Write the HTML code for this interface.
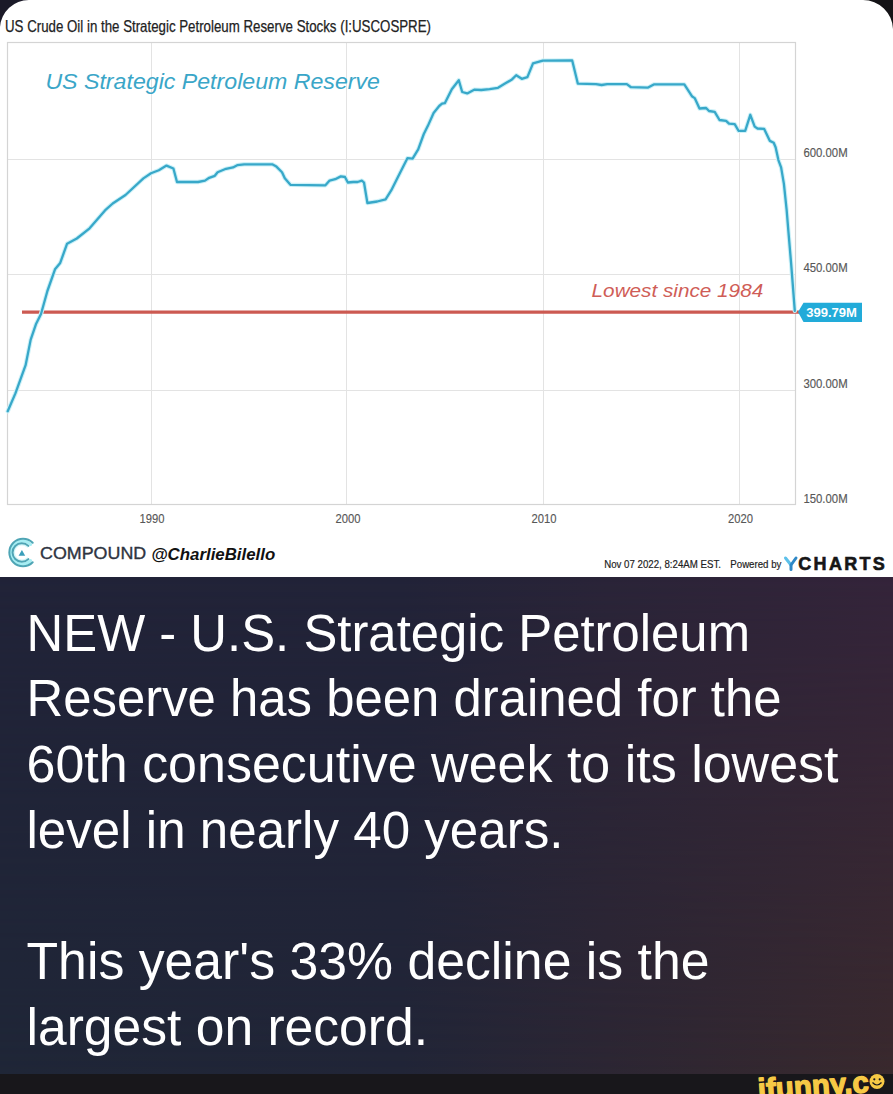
<!DOCTYPE html>
<html><head><meta charset="utf-8">
<style>
html,body{margin:0;padding:0;}
body{width:893px;height:1094px;overflow:hidden;position:relative;background:#ffffff;font-family:"Liberation Sans",sans-serif;}
svg{position:absolute;left:0;top:0;display:block;}
#dark{position:absolute;left:0;top:577px;width:893px;height:497px;
 background:linear-gradient(90deg,#212338 0%,#222338 45%,#2a2438 68%,#34243a 100%);}
#dark2{position:absolute;left:0;top:577px;width:893px;height:497px;
 background:linear-gradient(90deg,#1f2637 0%,#212537 45%,#2c2633 68%,#39292d 100%);
 -webkit-mask-image:linear-gradient(180deg,rgba(0,0,0,0) 0%,#000 100%);mask-image:linear-gradient(180deg,rgba(0,0,0,0) 0%,#000 100%);}
#bar{position:absolute;left:0;top:1074px;width:893px;height:20px;background:#18171b;}
</style></head>
<body>
<svg width="893" height="577" viewBox="0 0 893 577">
  <!-- top corners -->
  <path d="M0 0 H29 A29 29 0 0 0 0 27 Z" fill="#1b1a28"/>
  <path d="M893 0 H863 A30 30 0 0 1 893 29 Z" fill="#141316"/>
  <!-- title -->
  <text x="5" y="31.6" font-size="16.5" fill="#222" stroke="#222" stroke-width="0.25" textLength="426" lengthAdjust="spacingAndGlyphs">US Crude Oil in the Strategic Petroleum Reserve Stocks (I:USCOSPRE)</text>
  <!-- grid -->
  <g stroke="#e3e3e3" stroke-width="1">
    <line x1="8" y1="159.5" x2="795" y2="159.5"/>
    <line x1="8" y1="274.5" x2="795" y2="274.5"/>
    <line x1="8" y1="390.5" x2="795" y2="390.5"/>
    <line x1="151.5" y1="42" x2="151.5" y2="504"/>
    <line x1="346.5" y1="42" x2="346.5" y2="504"/>
    <line x1="543.5" y1="42" x2="543.5" y2="504"/>
    <line x1="739.5" y1="42" x2="739.5" y2="504"/>
  </g>
  <rect x="7.5" y="42.5" width="788" height="462" fill="none" stroke="#d4d4d4" stroke-width="1.2"/>
  <!-- y labels -->
  <g font-size="13" fill="#575757" stroke="#575757" stroke-width="0.15">
    <text x="803.4" y="156.8" textLength="44.2" lengthAdjust="spacingAndGlyphs">600.00M</text>
    <text x="803.4" y="271.8" textLength="44.2" lengthAdjust="spacingAndGlyphs">450.00M</text>
    <text x="803.4" y="388" textLength="44.2" lengthAdjust="spacingAndGlyphs">300.00M</text>
    <text x="803.4" y="502.8" textLength="44.2" lengthAdjust="spacingAndGlyphs">150.00M</text>
  </g>
  <g font-size="13" fill="#575757" stroke="#575757" stroke-width="0.15">
    <text x="139.4" y="523.2" textLength="25" lengthAdjust="spacingAndGlyphs">1990</text>
    <text x="335.6" y="523.2" textLength="25" lengthAdjust="spacingAndGlyphs">2000</text>
    <text x="531.5" y="523.2" textLength="25" lengthAdjust="spacingAndGlyphs">2010</text>
    <text x="728.1" y="523.2" textLength="25" lengthAdjust="spacingAndGlyphs">2020</text>
  </g>
  <!-- handwritten labels -->
  <text x="45.4" y="88.7" font-size="22" font-style="italic" fill="#3aa6c8" textLength="334.6" lengthAdjust="spacingAndGlyphs">US Strategic Petroleum Reserve</text>
  <text x="591.6" y="296.9" font-size="18" font-style="italic" fill="#cf5d57" textLength="171.6" lengthAdjust="spacingAndGlyphs">Lowest since 1984</text>
  <!-- red line -->
  <line x1="22" y1="312.2" x2="799" y2="312.2" stroke="#cc5a52" stroke-width="3.2"/>
  <!-- blue data line -->
  <polyline fill="none" stroke="#cdf1f8" stroke-width="4.4" stroke-linejoin="round" stroke-linecap="round" points="7.7,411.3 15.4,393.4 25.6,365.2 30.7,339.6 35.9,324.3 41,314 47.4,291 55,269.3 60.2,262.9 67.1,243.7 76.8,238.5 89.6,228.3 105,210.4 112.7,203.5 125.5,195 143.4,178.4 151,173.3 158.8,170.2 166.5,165.6 173.4,168.5 177,182 198,182 205,180.6 209.2,177.8 214.8,175.8 217.6,172.2 226,168.8 233,167.4 237.2,165.2 244.2,164.3 272.2,164.3 276.4,166.6 282,172.2 284.8,178.3 290.4,184.8 325.4,185.3 329.6,180.6 335.2,179.2 340.8,176.4 345,177 347.8,182.5 353.4,182 357.6,182 361.8,180.6 364,182.5 367.4,203 377.2,201.5 385.6,199.3 391.2,190.4 398.2,176.4 407.4,158.2 412.6,158.6 418.2,149.4 423.8,134 428,125.6 433.6,113 439.2,106 442,103.7 444.8,103.2 451.8,89.2 458.8,80.2 462.2,92 467.2,93.4 474.2,89.7 481.2,90 489.6,89.2 498,87.8 505,83.6 512,79.4 516.2,75.2 521.8,78.8 527.4,77.1 533,63.4 542.8,60.6 572.2,60.4 577.8,83.6 596,84.1 601.6,85 607.2,84.1 626.8,84.1 631,87.2 648.1,87.6 653.8,84.4 684.3,84.4 691.9,96.2 694.7,98.1 699.5,108.5 706.1,108 709,111 714.7,111.8 719.5,120 726.1,120.9 729,123.7 734.7,124.1 738.5,130.8 745.2,130.8 750.3,114.8 754.7,126.6 757.5,128.5 764.2,128.9 769.9,140.9 773.7,142.8 775.6,147.3 778.4,160.1 781.1,167.4 783.9,183.9 786.6,209.5 788.4,231.4 791.2,264.3 794.8,310.9"/>
  <polyline fill="none" stroke="#38a8c9" stroke-width="2.3" stroke-linejoin="round" stroke-linecap="round" points="7.7,411.3 15.4,393.4 25.6,365.2 30.7,339.6 35.9,324.3 41,314 47.4,291 55,269.3 60.2,262.9 67.1,243.7 76.8,238.5 89.6,228.3 105,210.4 112.7,203.5 125.5,195 143.4,178.4 151,173.3 158.8,170.2 166.5,165.6 173.4,168.5 177,182 198,182 205,180.6 209.2,177.8 214.8,175.8 217.6,172.2 226,168.8 233,167.4 237.2,165.2 244.2,164.3 272.2,164.3 276.4,166.6 282,172.2 284.8,178.3 290.4,184.8 325.4,185.3 329.6,180.6 335.2,179.2 340.8,176.4 345,177 347.8,182.5 353.4,182 357.6,182 361.8,180.6 364,182.5 367.4,203 377.2,201.5 385.6,199.3 391.2,190.4 398.2,176.4 407.4,158.2 412.6,158.6 418.2,149.4 423.8,134 428,125.6 433.6,113 439.2,106 442,103.7 444.8,103.2 451.8,89.2 458.8,80.2 462.2,92 467.2,93.4 474.2,89.7 481.2,90 489.6,89.2 498,87.8 505,83.6 512,79.4 516.2,75.2 521.8,78.8 527.4,77.1 533,63.4 542.8,60.6 572.2,60.4 577.8,83.6 596,84.1 601.6,85 607.2,84.1 626.8,84.1 631,87.2 648.1,87.6 653.8,84.4 684.3,84.4 691.9,96.2 694.7,98.1 699.5,108.5 706.1,108 709,111 714.7,111.8 719.5,120 726.1,120.9 729,123.7 734.7,124.1 738.5,130.8 745.2,130.8 750.3,114.8 754.7,126.6 757.5,128.5 764.2,128.9 769.9,140.9 773.7,142.8 775.6,147.3 778.4,160.1 781.1,167.4 783.9,183.9 786.6,209.5 788.4,231.4 791.2,264.3 794.8,310.9"/>
  <!-- value tag -->
  <path d="M798 312 L803.5 302.7 H862 V322 H803.5 Z" fill="#22abd9"/>
  <text x="806.2" y="317" font-size="13" font-weight="bold" fill="#fff" textLength="50.8" lengthAdjust="spacingAndGlyphs">399.79M</text>
  <!-- compound logo -->
  <g fill="none" stroke-linecap="round">
    <path d="M30.6 544.4 A11.5 11.5 0 1 0 30.6 560.6" stroke="#a6eef3" stroke-width="3"/>
    <path d="M27.5 547 A7.8 7.8 0 1 0 27.5 558" stroke="#d6f7f9" stroke-width="1.6"/>
    <path d="M32.7 542.8 A13.7 13.7 0 1 0 32.7 562.2" stroke="#4ea5b5" stroke-width="2"/>
    <path d="M28.4 545.9 A9.3 9.3 0 1 0 28.4 559.1" stroke="#4ea5b5" stroke-width="2"/>
  </g>
  <path d="M21.9 550.1 L25.2 555.7 H18.6 Z" fill="#3a9fbb"/>
  <text x="40" y="559.2" font-size="17" fill="#2e3441" stroke="#2e3441" stroke-width="0.35" textLength="106.2" lengthAdjust="spacingAndGlyphs">COMPOUND</text>
  <text x="151.2" y="559.6" font-size="16" font-weight="bold" font-style="italic" fill="#111" textLength="124" lengthAdjust="spacingAndGlyphs">@CharlieBilello</text>
  <!-- ycharts footer -->
  <text x="604.2" y="568.3" font-size="11.5" fill="#222" stroke="#222" stroke-width="0.2" textLength="116.8" lengthAdjust="spacingAndGlyphs">Nov 07 2022, 8:24AM EST.</text>
  <text x="730.3" y="568.4" font-size="11.5" fill="#222" stroke="#222" stroke-width="0.2" textLength="51.1" lengthAdjust="spacingAndGlyphs">Powered by</text>
  <path d="M785.5 558 L791 565" stroke="#5cc0ea" stroke-width="3" stroke-linecap="round"/>
  <path d="M796 558 L791 565 V569.5" stroke="#2f88c6" stroke-width="3" stroke-linecap="round" stroke-linejoin="round" fill="none"/>
  <text x="798.3" y="570.3" font-size="18" font-weight="bold" fill="#161616" stroke="#161616" stroke-width="0.6" textLength="86.5" lengthAdjust="spacing">CHARTS</text>
</svg>
<div id="dark"></div><div id="dark2"></div>
<svg width="893" height="1094" viewBox="0 0 893 1094" style="top:0">
  <g font-size="51" fill="#ffffff">
    <text x="26.5" y="650.5" textLength="723.5" lengthAdjust="spacingAndGlyphs">NEW - U.S. Strategic Petroleum</text>
    <text x="26.5" y="716.2" textLength="755" lengthAdjust="spacingAndGlyphs">Reserve has been drained for the</text>
    <text x="26.5" y="781.9" textLength="812" lengthAdjust="spacingAndGlyphs">60th consecutive week to its lowest</text>
    <text x="26.5" y="847.6" textLength="537" lengthAdjust="spacingAndGlyphs">level in nearly 40 years.</text>
    <text x="26.5" y="979" textLength="683" lengthAdjust="spacingAndGlyphs">This year's 33% decline is the</text>
    <text x="26.5" y="1044.7" textLength="401.5" lengthAdjust="spacingAndGlyphs">largest on record.</text>
  </g>
</svg>
<div id="bar"></div>
<svg width="893" height="1094" viewBox="0 0 893 1094" style="top:0">
  <g transform="rotate(-4 812 1090)">
    <text x="758" y="1096" font-size="30" font-weight="bold" fill="#f6c945" stroke="#f6c945" stroke-width="1.3" stroke-linejoin="round" textLength="111" lengthAdjust="spacingAndGlyphs">ifunny.c</text>
  </g>
  <circle cx="877" cy="1081.5" r="7.5" fill="#f6c945"/>
  <circle cx="874.3" cy="1079.3" r="1.1" fill="#18171b"/>
  <circle cx="879.7" cy="1079.3" r="1.1" fill="#18171b"/>
  <path d="M872.5 1082.5 Q877 1087.5 881.5 1082.5" stroke="#18171b" stroke-width="1.2" fill="none"/>
</svg>
</body></html>
